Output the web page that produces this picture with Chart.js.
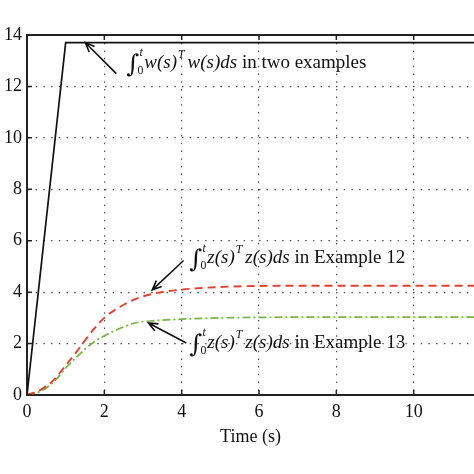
<!DOCTYPE html>
<html>
<head>
<meta charset="utf-8">
<script src="https://cdn.jsdelivr.net/npm/chart.js@4.4.1/dist/chart.umd.min.js"></script>
<style>
  html, body { margin: 0; padding: 0; background: #fff; }
  #box { width: 474px; height: 474px; }
</style>
</head>
<body>
<div id="box"><canvas id="plot"></canvas></div>
<script>
// time axis for the black line (integral of w^T w)
const tW = [0, 1.0, 11.56];
const wInt = [0, 13.7, 13.7];

// time axis for the two z^T z integrals
const tZ = [0, 0.35, 0.7, 1.0, 1.25, 1.5, 1.75, 2.0, 2.35, 2.85, 3.3, 4.0, 5.0, 6.0, 8.0, 10.0, 11.56];
const zInt12 = [0, 0.2, 0.6, 1.15, 1.62, 2.12, 2.6, 3.0, 3.38, 3.76, 3.95, 4.1, 4.2, 4.24, 4.25, 4.25, 4.25];
const zInt13 = [0, 0.15, 0.52, 1.05, 1.43, 1.78, 2.08, 2.3, 2.56, 2.82, 2.89, 2.95, 3.0, 3.02, 3.03, 3.03, 3.03];

const xTicks = [0, 2, 4, 6, 8, 10];
const yTicks = [0, 2, 4, 6, 8, 10, 12, 14];

// annotation arrows: tip, tail and text start in data units
const notes = [
  { tip: [1.51, 13.7], tail: [2.31, 12.5], at: [2.6, 12.71], fn: 'w', tail2: ' in two examples' },
  { tip: [3.24, 4.09], tail: [4.05, 5.23], at: [4.23, 5.12], fn: 'z', tail2: ' in Example 12' },
  { tip: [3.14, 2.8], tail: [4.12, 2.02], at: [4.23, 1.82], fn: 'z', tail2: ' in Example 13' }
];

const serif = '"Liberation Serif", "DejaVu Serif", serif';

function pts(xs, ys) {
  return xs.map((x, i) => ({ x: x, y: ys[i] }));
}

function drawMath(ctx, x, y, fn, rest) {
  const fs = 19;
  ctx.fillStyle = '#111';
  ctx.textBaseline = 'alphabetic';
  ctx.textAlign = 'left';
  ctx.font = `${fs * 1.3}px "DejaVu Serif"`;
  ctx.fillText('\u222B', x - 1, y + 4);
  x += ctx.measureText('\u222B').width - 3;
  ctx.font = `italic ${fs * 0.62}px ${serif}`;
  ctx.fillText('t', x + 2, y - fs * 0.62);
  ctx.font = `${fs * 0.62}px ${serif}`;
  ctx.fillText('0', x, y + fs * 0.3);
  x += ctx.measureText('0').width + 1;
  ctx.font = `italic ${fs}px ${serif}`;
  ctx.fillText(fn + '(s)', x, y);
  x += ctx.measureText(fn + '(s)').width + 1;
  ctx.font = `italic ${fs * 0.62}px ${serif}`;
  ctx.fillText('T', x, y - fs * 0.55);
  x += ctx.measureText('T').width + 3;
  ctx.font = `italic ${fs}px ${serif}`;
  ctx.fillText(fn + '(s)ds', x, y);
  x += ctx.measureText(fn + '(s)ds').width;
  ctx.font = `${fs}px ${serif}`;
  ctx.fillText(rest, x, y);
}

const extras = {
  id: 'extras',
  afterDraw(chart) {
    const { ctx, chartArea: a, scales: { x, y } } = chart;
    ctx.save();
    // top border
    ctx.strokeStyle = '#222';
    ctx.lineWidth = 2;
    ctx.beginPath();
    ctx.moveTo(a.left - 1, a.top);
    ctx.lineTo(a.right, a.top);
    ctx.stroke();
    // inward tick marks
    ctx.lineWidth = 1.5;
    ctx.beginPath();
    xTicks.forEach(v => {
      const px = x.getPixelForValue(v);
      ctx.moveTo(px, a.bottom); ctx.lineTo(px, a.bottom - 5);
      ctx.moveTo(px, a.top); ctx.lineTo(px, a.top + 5);
    });
    yTicks.forEach(v => {
      const py = y.getPixelForValue(v);
      ctx.moveTo(a.left, py); ctx.lineTo(a.left + 5, py);
    });
    ctx.stroke();
    // arrows and labels
    notes.forEach(n => {
      const tx = x.getPixelForValue(n.tip[0]), ty = y.getPixelForValue(n.tip[1]);
      const sx = x.getPixelForValue(n.tail[0]), sy = y.getPixelForValue(n.tail[1]);
      const ang = Math.atan2(ty - sy, tx - sx);
      ctx.strokeStyle = '#111';
      ctx.lineWidth = 1.6;
      ctx.beginPath();
      ctx.moveTo(sx, sy); ctx.lineTo(tx, ty);
      ctx.moveTo(tx - 10 * Math.cos(ang - 0.4), ty - 10 * Math.sin(ang - 0.4));
      ctx.lineTo(tx, ty);
      ctx.lineTo(tx - 10 * Math.cos(ang + 0.4), ty - 10 * Math.sin(ang + 0.4));
      ctx.stroke();
      drawMath(ctx, x.getPixelForValue(n.at[0]), y.getPixelForValue(n.at[1]), n.fn, n.tail2);
    });
    ctx.restore();
  }
};

new Chart(document.getElementById('plot'), {
  type: 'scatter',
  data: {
    datasets: [
      {
        data: pts(tW, wInt),
        showLine: true,
        borderColor: '#111',
        borderWidth: 1.7,
        pointRadius: 0
      },
      {
        data: pts(tZ, zInt12),
        showLine: true,
        borderColor: '#e2412f',
        borderWidth: 1.9,
        borderDash: [8, 5],
        cubicInterpolationMode: 'monotone',
        pointRadius: 0
      },
      {
        data: pts(tZ, zInt13),
        showLine: true,
        borderColor: '#78b440',
        borderWidth: 1.7,
        borderDash: [8, 3, 2, 3],
        cubicInterpolationMode: 'monotone',
        pointRadius: 0
      }
    ]
  },
  options: {
    responsive: true,
    maintainAspectRatio: false,
    animation: false,
    layout: { padding: { top: 35, right: 0, left: 0, bottom: 0 } },
    plugins: {
      legend: { display: false },
      tooltip: { enabled: false }
    },
    scales: {
      x: {
        type: 'linear',
        min: 0,
        max: 11.56,
        afterBuildTicks: s => { s.ticks = xTicks.map(v => ({ value: v })); },
        afterFit: s => { s.height = 79; },
        ticks: { color: '#111', padding: 6, font: { family: serif, size: 18 } },
        grid: { color: '#555', lineWidth: 1.2, drawTicks: false },
        border: { display: true, color: '#222', width: 2, dash: [1.5, 6.2] },
        title: {
          display: true,
          text: 'Time (s)',
          color: '#111',
          font: { family: serif, size: 18 },
          padding: { top: 0, bottom: 26 }
        }
      },
      y: {
        min: 0,
        max: 14,
        afterBuildTicks: s => { s.ticks = yTicks.map(v => ({ value: v })); },
        afterFit: s => { s.width = 27; },
        ticks: { color: '#111', padding: 5, font: { family: serif, size: 18 } },
        grid: { color: '#555', lineWidth: 1.2, drawTicks: false },
        border: { display: true, color: '#222', width: 2, dash: [1.5, 6.2] }
      }
    }
  },
  plugins: [extras]
});
</script>
</body>
</html>
